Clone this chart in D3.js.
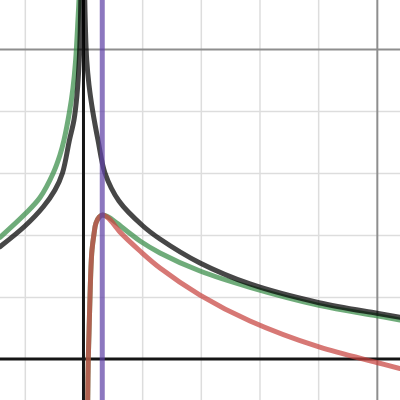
<!DOCTYPE html>
<html>
<head>
<meta charset="utf-8">
<script src="https://cdn.jsdelivr.net/npm/d3@7"></script>
<style>
  body { margin: 0; background: #fff; }
  svg { display: block; }
</style>
</head>
<body>
<svg id="chart"></svg>
<script>
// values (graph units)
const minorX = [-1, 1, 2, 3, 4]
const majorX = [5]
const minorY = [1, 2, 3, 4]
const majorY = [5]
const markerX = 0.32

const blackLeft = [
  [-1.423, 1.811], [-0.997, 2.145], [-0.685, 2.456], [-0.486, 2.726],
  [-0.358, 3.0], [-0.239, 3.532], [-0.162, 3.855], [-0.111, 4.258],
  [-0.072, 4.823], [-0.055, 5.306], [-0.046, 5.79], [-0.039, 6.274]
]
const blackRight = [
  [0.015, 6.274], [0.022, 5.79], [0.034, 5.306], [0.055, 4.823],
  [0.094, 4.419], [0.157, 4.0], [0.247, 3.532], [0.366, 3.0],
  [0.605, 2.548], [1.014, 2.145], [1.304, 1.935], [1.986, 1.548],
  [2.838, 1.21], [4.014, 0.908], [5.0, 0.737], [5.395, 0.673]
]
const greenLeft = [
  [-1.423, 1.963], [-0.997, 2.339], [-0.741, 2.605], [-0.515, 3.0],
  [-0.401, 3.29], [-0.332, 3.532], [-0.242, 3.968], [-0.179, 4.371],
  [-0.136, 4.79], [-0.094, 5.468], [-0.077, 5.79], [-0.063, 6.274]
]
// rising part is shared by the green and red curves
const rise = [
  [0.070, -0.984], [0.072, -0.661], [0.082, 0], [0.094, 0.419],
  [0.111, 1.0], [0.128, 1.484], [0.145, 1.758], [0.179, 2.016],
  [0.213, 2.194], [0.269, 2.29], [0.327, 2.323]
]
const greenTail = [
  [0.423, 2.29], [0.566, 2.194], [0.622, 2.153], [0.793, 2.024],
  [0.963, 1.903], [1.304, 1.71], [1.986, 1.419], [2.838, 1.156],
  [4.014, 0.866], [5.0, 0.698], [5.395, 0.629]
]
const redTail = [
  [0.423, 2.274], [0.566, 2.113], [0.622, 2.048], [0.963, 1.742],
  [1.304, 1.468], [1.986, 1.032], [2.838, 0.613], [4.014, 0.194],
  [5.0, -0.056], [5.395, -0.153]
]

const width = 400
const height = 400

const x = d3.scaleLinear().domain([-1.423, 5.395]).range([0, width])
const y = d3.scaleLinear().domain([-0.661, 5.79]).range([height, 0])

const svg = d3.select('#chart')
  .attr('width', width)
  .attr('height', height)
  .attr('viewBox', [0, 0, width, height])

svg.append('rect').attr('width', width).attr('height', height).attr('fill', '#fff')

const xAxis = d3.axisBottom(x)
const yAxis = d3.axisLeft(y)

function grid(g, axis, size, values, color, w) {
  g.call(axis.tickValues(values).tickSize(-size).tickFormat(''))
  g.select('.domain').remove()
  g.selectAll('line').attr('stroke', color).attr('stroke-width', w)
}

svg.append('g').attr('transform', `translate(0, ${height})`)
  .call(g => grid(g, xAxis, height, minorX, '#dddddd', 1.5))
svg.append('g')
  .call(g => grid(g, yAxis, width, minorY, '#dddddd', 1.5))
svg.append('g').attr('transform', `translate(0, ${height})`)
  .call(g => grid(g, xAxis, height, majorX, '#8e8e8e', 2))
svg.append('g')
  .call(g => grid(g, yAxis, width, majorY, '#8e8e8e', 2))

// main axes
svg.append('line')
  .attr('x1', x(0)).attr('x2', x(0)).attr('y1', 0).attr('y2', height)
  .attr('stroke', '#151515').attr('stroke-width', 3)
svg.append('line')
  .attr('x1', 0).attr('x2', width).attr('y1', y(0)).attr('y2', y(0))
  .attr('stroke', '#151515').attr('stroke-width', 3)

const line = d3.line()
  .x(d => x(d[0]))
  .y(d => y(d[1]))
  .curve(d3.curveCatmullRom.alpha(0.5))

const curves = [
  { data: greenLeft, color: '#388c46' },
  { data: rise.concat(greenTail), color: '#388c46' },
  { data: rise.concat(redTail), color: '#c74440' },
  { data: blackLeft, color: '#000000' },
  { data: blackRight, color: '#000000' }
]

svg.append('g')
  .selectAll('path')
  .data(curves)
  .join('path')
  .attr('d', d => line(d.data))
  .attr('fill', 'none')
  .attr('stroke', d => d.color)
  .attr('stroke-opacity', 0.72)
  .attr('stroke-width', 5)
  .attr('stroke-linejoin', 'round')
  .attr('stroke-linecap', 'round')

svg.append('line')
  .attr('x1', x(markerX)).attr('x2', x(markerX))
  .attr('y1', 0).attr('y2', height)
  .attr('stroke', '#6042a6')
  .attr('stroke-opacity', 0.72)
  .attr('stroke-width', 5)
</script>
</body>
</html>
